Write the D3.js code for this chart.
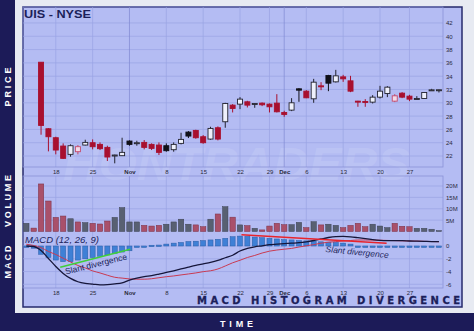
<!DOCTYPE html>
<html>
<head>
<meta charset="utf-8">
<script src="https://cdn.jsdelivr.net/npm/d3@7"></script>
<style>
  html, body { margin: 0; padding: 0; background: #1c1b58; }
  svg { display: block; font-family: "Liberation Sans", Arial, sans-serif; }
</style>
</head>
<body>
<div class="chart"></div>
<script>
// trading days, Oct 12 - Dec 31
const dates = ["10-12","10-13","10-14","10-15","10-18","10-19","10-20","10-21","10-22",
    "10-25","10-26","10-27","10-28","10-29","11-01","11-02","11-03","11-04","11-05",
    "11-08","11-09","11-10","11-11","11-12","11-15","11-16","11-17","11-18","11-19",
    "11-22","11-23","11-24","11-26","11-29","11-30","12-01","12-02","12-03",
    "12-06","12-07","12-08","12-09","12-10","12-13","12-14","12-15","12-16","12-17",
    "12-20","12-21","12-22","12-23","12-27","12-28","12-29","12-30","12-31"];

const tickDates  = ["10-18","10-25","11-01","11-08","11-15","11-22","11-29","12-01","12-06","12-13","12-20","12-27"];
const tickLabels = ["18","25","Nov","8","15","22","29","Dec","6","13","20","27"];

// prices (first two days are above the visible range)
const open  = [null,null,36.1,26.1,24.75,23.5,22.25,22.65,23.65,24.0,23.75,23.3,22.1,22.05,24.25,23.95,24.05,23.75,23.65,23.55,
    22.95,23.9,25.6,25.85,24.9,24.55,26.25,27.15,29.65,29.8,30.15,29.85,29.95,29.8,29.95,28.55,28.9,32.1,31.75,30.6,
    32.55,34.1,33.15,33.9,33.3,30.25,30.2,30.1,30.85,31.4,30.25,31.45,31.0,30.6,30.65,31.9,31.92];
const high  = [null,null,36.1,26.2,24.9,23.9,23.75,23.65,24.45,24.5,24.05,23.55,22.2,24.75,24.35,24.3,24.4,23.9,24.05,23.9,
    24.05,25.5,25.75,25.95,25.15,26.4,26.45,30.0,29.8,30.85,30.3,29.92,30.05,29.9,31.3,28.8,30.7,32.2,31.9,33.6,
    33.1,34.2,34.95,34.2,34.05,30.3,30.55,31.15,32.55,32.5,31.3,31.6,31.2,31.0,31.6,32.1,31.98];
const low   = [null,null,25.2,22.7,22.25,21.55,21.9,22.25,23.6,23.0,22.9,21.25,20.9,22.0,23.55,23.55,23.0,22.9,22.15,22.65,
    22.65,23.75,24.7,24.6,23.85,24.45,24.35,26.25,28.55,29.05,29.3,29.25,29.5,28.55,28.55,27.9,28.75,30.15,30.7,30.0,
    31.9,31.75,33.05,33.15,31.6,29.4,29.4,29.9,30.65,30.85,30.1,30.7,30.25,30.55,30.6,31.8,31.55];
const close = [null,null,26.6,24.9,22.9,21.65,23.55,23.4,24.05,23.4,23.1,21.85,22.15,22.55,23.75,24.0,23.3,23.15,22.55,22.8,
    23.75,24.5,25.0,24.75,24.0,26.15,24.55,29.9,29.15,30.55,29.65,29.9,29.7,29.4,28.65,28.25,30.0,31.9,30.75,33.1,
    32.45,32.95,34.05,33.6,31.75,30.2,30.15,30.85,31.75,32.35,31.05,30.85,30.55,30.65,31.55,31.95,31.96];
const priorDown = [false, true];   // direction of the two days before the price window

// volume, millions
const volume = [3.6,1.5,20.9,13.4,6.2,6.8,5.6,4.2,3.9,3.6,3.3,4.6,6.2,10.5,4.2,4.2,2.7,2.4,2.7,3.2,
    4.2,5.4,3.2,2.9,2.1,5.4,7.7,10.9,6.3,2.9,2.6,1.4,0.7,2.4,3.6,3.0,3.0,4.0,1.7,4.3,
    2.9,3.2,2.7,1.7,2.7,3.6,2.1,3.2,2.4,1.7,3.6,2.3,2.1,1.4,1.4,1.0,0.4];

// MACD (12, 26, 9)
const macd = [0,-0.08,-0.7,-1.95,-3.2,-4.3,-5.08,-5.6,-5.86,-5.97,-6.1,-6.06,-5.94,-5.78,-5.34,-5.03,-4.8,-4.64,-4.4,-4.14,
    -3.88,-3.6,-3.3,-3.02,-2.8,-2.58,-2.27,-1.84,-1.45,-0.78,-0.39,-0.12,0.03,0.2,0.28,0.36,0.44,0.52,0.66,0.86,
    1.1,1.33,1.47,1.5,1.44,1.3,1.14,1.0,0.89,0.84,0.83,0.83,0.78,0.75,0.72,0.69,0.67];
const signal = [0.27,0.08,-0.25,-0.86,-1.33,-1.92,-2.5,-3.05,-3.44,-3.9,-4.22,-4.58,-4.9,-5.03,-5.16,-5.2,-5.2,-5.13,-4.97,-4.81,
    -4.69,-4.53,-4.38,-4.22,-4.02,-3.88,-3.6,-3.13,-2.63,-2.23,-1.8,-1.48,-1.1,-0.81,-0.63,-0.5,-0.38,-0.16,0.03,0.22,
    0.44,0.6,0.69,0.78,0.86,0.94,0.94,0.92,0.9,0.87,0.84,0.81,0.78,0.77,0.73,0.7,0.67];
const histogram = [0,-0.35,-1.3,-1.8,-2.2,-2.45,-2.45,-2.2,-2.0,-1.8,-1.6,-1.4,-1.15,-0.95,-0.75,-0.15,-0.12,0.12,0.15,0.3,
    0.45,0.55,0.7,0.75,0.85,0.95,1.05,1.2,1.45,1.55,1.5,1.4,1.3,1.2,1.1,1.0,0.95,0.85,0.8,0.75,
    0.65,0.6,0.55,0.45,0.3,-0.12,-0.12,-0.12,-0.12,-0.12,-0.12,-0.12,-0.12,-0.12,-0.12,-0.12,-0.12];

// divergence annotations: [day index, macd value]
const greenSlant = [[4.6, -3.33], [14.1, -0.52]];
const redSlant   = [[29.2, 1.77], [48.9, 0.42]];

const W = 474, H = 331;
let plot = {left: 23, right: 443},
    pricePanel = {top: 7, bottom: 167},
    lowerPanel = {top: 176, bottom: 288};

let svg = d3.select(".chart").append("svg")
    .attr("width", W)
    .attr("height", H);

// frame
svg.append("rect").attr("width", W).attr("height", H).attr("fill", "#1c1b58");
svg.append("rect").attr("x", 15).attr("y", 0).attr("width", W - 15).attr("height", 313).attr("fill", "#e7eaf2");
svg.append("rect").attr("x", 23).attr("y", 7).attr("width", 439).attr("height", 300)
    .attr("fill", "#b4bcf3").attr("stroke", "#262a6c").attr("stroke-width", 1.5);

// scales
let x = d3.scaleLinear().domain([-0.45, 56.55]).range([plot.left, plot.right]);
let yP = d3.scaleLinear().domain([20.35, 44.4]).range([pricePanel.bottom, pricePanel.top]);
let yV = d3.scaleLinear().domain([0, 20]).range([231.5, 186]);
let yM = d3.scaleLinear().domain([-6, 0]).range([284.3, 246]);

let tickIdx = tickDates.map(d => dates.indexOf(d));

// watermark
svg.append("text")
    .attr("x", 63).attr("y", 180)
    .attr("textLength", 347).attr("lengthAdjust", "spacingAndGlyphs")
    .style("font-size", "46px").style("font-weight", "bold").style("font-style", "italic")
    .style("fill", "#ffffff").style("opacity", 0.1)
    .text("HONTRADERS");

// grids
function grid(panel, yScale, values) {
    let g = svg.append("g");
    g.selectAll(".h").data(values).enter().append("line")
        .attr("x1", plot.left).attr("x2", plot.right)
        .attr("y1", d => yScale(d)).attr("y2", d => yScale(d))
        .attr("stroke", "#9aa3e4").attr("stroke-width", 0.7);
    g.selectAll(".v").data(tickIdx).enter().append("line")
        .attr("x1", d => x(d)).attr("x2", d => x(d))
        .attr("y1", panel.top).attr("y2", panel.bottom)
        .attr("stroke", (d, i) => (tickLabels[i] === "Nov" || tickLabels[i] === "Dec") ? "#8088d2" : "#9aa3e4")
        .attr("stroke-width", 0.7);
    g.append("rect")
        .attr("x", plot.left).attr("y", panel.top)
        .attr("width", plot.right - plot.left).attr("height", panel.bottom - panel.top)
        .attr("fill", "none").attr("stroke", "#8a92d6").attr("stroke-width", 0.8);
}
grid(pricePanel, yP, d3.range(22, 43, 2));
grid(lowerPanel, yV, [5, 10, 15, 20]);
svg.append("g").selectAll("line").data([0, -2, -4, -6]).enter().append("line")
    .attr("x1", plot.left).attr("x2", plot.right)
    .attr("y1", d => yM(d)).attr("y2", d => yM(d))
    .attr("stroke", "#9aa3e4").attr("stroke-width", 0.7);

// right-side axes (labels only)
function rightAxis(scale, values, fmt) {
    svg.append("g")
        .attr("transform", "translate(" + plot.right + ",0)")
        .call(d3.axisRight(scale).tickValues(values).tickSize(0).tickPadding(3).tickFormat(fmt))
        .call(g => g.select(".domain").remove())
        .selectAll("text")
        .style("font-size", "6px").style("fill", "#2a2a3a")
        .style("font-family", "'Liberation Sans', Arial, sans-serif");
}
rightAxis(yP, d3.range(22, 43, 2), d => d);
rightAxis(yV, [5, 10, 15, 20], d => d + "M");
rightAxis(yM, [0, -2, -4, -6], d => d);

// date axes
function dateAxis(yPos) {
    svg.append("g")
        .attr("transform", "translate(0," + yPos + ")")
        .call(d3.axisBottom(x).tickValues(tickIdx).tickSize(0).tickPadding(3)
            .tickFormat((d, i) => tickLabels[i]))
        .call(g => g.select(".domain").remove())
        .selectAll("text")
        .style("font-size", "6px").style("fill", "#2a2a3a")
        .style("font-family", "'Liberation Sans', Arial, sans-serif")
        .style("font-weight", (d, i) => (tickLabels[i] === "Nov" || tickLabels[i] === "Dec") ? "bold" : "normal");
}
dateAxis(pricePanel.bottom);
dateAxis(lowerPanel.bottom);

// direction of each day
function isDown(i) {
    if (close[i] == null) return priorDown[i];
    if (i === 0 || close[i - 1] == null) return close[i] < open[i];
    return close[i] < close[i - 1];
}

// candles
let days = d3.range(dates.length);
let candleData = days.filter(i => open[i] != null);

svg.append("clipPath").attr("id", "priceClip").append("rect")
    .attr("x", plot.left).attr("y", pricePanel.top)
    .attr("width", plot.right - plot.left).attr("height", pricePanel.bottom - pricePanel.top);

function candleStyle(i) {
    let down = isDown(i), filled = close[i] < open[i];
    if (down && filled) return {fill: "#a8102f", stroke: "#a8102f"};
    if (down) return {fill: "#f2dbe9", stroke: "#c44a6c"};
    if (filled) return {fill: "#101018", stroke: "#101018"};
    return {fill: "#eef0fb", stroke: "#22222e"};
}

let candles = svg.append("g").attr("clip-path", "url(#priceClip)")
    .selectAll(".candle").data(candleData).enter().append("g");

candles.append("line")
    .attr("x1", d => x(d)).attr("x2", d => x(d))
    .attr("y1", d => yP(high[d])).attr("y2", d => yP(low[d]))
    .attr("stroke", d => candleStyle(d).stroke).attr("stroke-width", 1);

candles.append("rect")
    .attr("x", d => x(d) - 2.5)
    .attr("width", 5)
    .attr("y", d => yP(Math.max(open[d], close[d])))
    .attr("height", d => Math.max(1, Math.abs(yP(open[d]) - yP(close[d]))))
    .attr("fill", d => candleStyle(d).fill)
    .attr("stroke", d => candleStyle(d).stroke)
    .attr("stroke-width", 0.9);

// volume bars
svg.append("g").selectAll("rect").data(days).enter().append("rect")
    .attr("x", d => x(d) - 2.7)
    .attr("width", 5.4)
    .attr("y", d => yV(volume[d]))
    .attr("height", d => yV(0) - yV(volume[d]))
    .attr("fill", d => isDown(d) ? "#a9506a" : "#586072")
    .attr("stroke", d => isDown(d) ? "#7a3046" : "#3c4254")
    .attr("stroke-width", 0.5);

// MACD label
svg.append("text")
    .attr("x", 25).attr("y", 243)
    .attr("textLength", 74).attr("lengthAdjust", "spacingAndGlyphs")
    .style("font-size", "9px").style("font-style", "italic").style("fill", "#1c1f5a")
    .text("MACD (12, 26, 9)");

// histogram
svg.append("g").selectAll("rect").data(days).enter().append("rect")
    .attr("x", d => x(d) - 2.5)
    .attr("width", 5)
    .attr("y", d => yM(Math.max(histogram[d], 0)))
    .attr("height", d => Math.max(1.5, Math.abs(yM(histogram[d]) - yM(0))))
    .attr("fill", "#3f80d6")
    .attr("stroke", "#2a5ca6")
    .attr("stroke-width", 0.5);

// macd and signal lines
let line = d3.line().x((d, i) => x(i)).y(d => yM(d)).curve(d3.curveMonotoneX);

svg.append("path").datum(signal)
    .attr("d", line).attr("fill", "none")
    .attr("stroke", "#c93a52").attr("stroke-width", 1);
svg.append("path").datum(macd)
    .attr("d", line).attr("fill", "none")
    .attr("stroke", "#16163a").attr("stroke-width", 1.3);

// divergence annotations
let seg = d3.line().x(d => x(d[0])).y(d => yM(d[1]));
svg.append("path").datum(greenSlant).attr("d", seg)
    .attr("stroke", "#3fcf3a").attr("stroke-width", 1.6).attr("fill", "none");
svg.append("path").datum(redSlant).attr("d", seg)
    .attr("stroke", "#e8242c").attr("stroke-width", 1.6).attr("fill", "none");

svg.append("text")
    .attr("transform", "translate(" + x(9.46) + "," + yM(-2.82) + ") rotate(-14)")
    .attr("text-anchor", "middle").attr("dy", "0.35em")
    .style("font-size", "8.5px").style("fill", "#1c1f5a")
    .text("Slant divergence");
svg.append("text")
    .attr("transform", "translate(" + x(44.9) + "," + yM(-0.94) + ") rotate(5.5)")
    .attr("text-anchor", "middle").attr("dy", "0.35em")
    .style("font-size", "8.5px").style("font-style", "italic").style("fill", "#1c1f5a")
    .text("Slant divergence");

// titles
svg.append("text")
    .attr("x", 24).attr("y", 18.3)
    .attr("textLength", 67).attr("lengthAdjust", "spacingAndGlyphs")
    .style("font-size", "10px").style("font-weight", "bold").style("fill", "#1c1f5a")
    .text("UIS - NYSE");

svg.append("text")
    .attr("x", 197).attr("y", 304.4)
    .attr("textLength", 263).attr("lengthAdjust", "spacing")
    .style("font-family", "'DejaVu Sans', sans-serif")
    .style("font-size", "10px").style("font-weight", "bold").style("fill", "#1c1f5a")
    .style("stroke", "#1c1f5a").style("stroke-width", 0.3)
    .text("MACD HISTOGRAM DIVERGENCE");

// side labels
function sideLabel(text, cy, len) {
    svg.append("text")
        .attr("transform", "translate(11," + cy + ") rotate(-90)")
        .attr("text-anchor", "middle")
        .attr("textLength", len).attr("lengthAdjust", "spacing")
        .style("font-size", "9px").style("font-weight", "bold").style("fill", "#ffffff")
        .text(text);
}
sideLabel("PRICE", 87, 39);
sideLabel("VOLUME", 201, 52);
sideLabel("MACD", 262, 33);

svg.append("text")
    .attr("x", 236.5).attr("y", 326.5)
    .attr("text-anchor", "middle")
    .attr("textLength", 33).attr("lengthAdjust", "spacing")
    .style("font-size", "9px").style("font-weight", "bold").style("fill", "#ffffff")
    .text("TIME");
</script>
</body>
</html>
